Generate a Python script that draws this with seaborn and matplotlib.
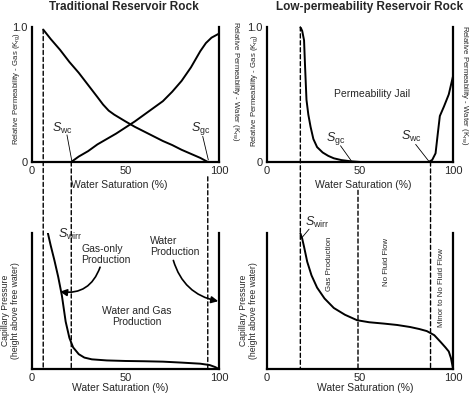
#!/usr/bin/env python3
import pandas as pd
import seaborn as sns
import matplotlib.pyplot as plt
from matplotlib.patches import ConnectionPatch

# relative permeability, traditional rock
trad_krg_sw = [6, 10, 15, 20, 25, 30, 35, 38, 41, 44, 47, 50, 55, 60, 65, 70, 75, 80, 85, 90, 94]
trad_krg = [0.98, 0.91, 0.83, 0.74, 0.66, 0.57, 0.48, 0.425, 0.38, 0.35, 0.325, 0.30, 0.26,
            0.225, 0.19, 0.155, 0.125, 0.09, 0.06, 0.03, 0.0]
trad_krw_sw = [21, 25, 30, 35, 40, 45, 50, 55, 60, 65, 70, 75, 80, 85, 90, 93, 96, 100]
trad_krw = [0.0, 0.04, 0.08, 0.13, 0.17, 0.21, 0.255, 0.30, 0.35, 0.40, 0.45, 0.52, 0.60,
            0.70, 0.82, 0.88, 0.92, 0.95]

# relative permeability, low-permeability rock
tight_krg_sw = [18, 19, 20, 20.5, 21.3, 22.3, 23.5, 25, 27, 30, 33, 36, 40, 45, 50]
tight_krg = [1.0, 0.97, 0.9, 0.72, 0.46, 0.35, 0.26, 0.17, 0.11, 0.07, 0.045, 0.027, 0.014, 0.005, 0.0]
tight_krw_sw = [87, 88.9, 90.7, 91.9, 93, 95.2, 97.8, 100]
tight_krw = [0.0, 0.015, 0.064, 0.21, 0.34, 0.41, 0.5, 0.63]

# capillary pressure curves
trad_pc_sw = [8.5, 10, 12, 14, 16, 18, 20, 22, 25, 28, 32, 40, 50, 60, 70, 80, 90, 95, 98, 100]
trad_pc = [1.0, 0.91, 0.8, 0.68, 0.54, 0.35, 0.23, 0.16, 0.11, 0.085, 0.072, 0.064, 0.06,
           0.058, 0.055, 0.048, 0.04, 0.03, 0.015, 0.0]
tight_pc_sw = [18, 19, 20, 21.7, 24, 27, 31, 36, 42, 48.5, 55, 63, 70, 77, 82, 86, 90, 93.4,
               96, 97.8, 99, 100]
tight_pc = [1.0, 0.96, 0.9, 0.79, 0.69, 0.6, 0.52, 0.45, 0.4, 0.36, 0.345, 0.335, 0.325, 0.31,
            0.295, 0.28, 0.25, 0.2, 0.16, 0.13, 0.08, 0.01]

# cut-off saturations (dashed lines)
trad_cutoffs = [6, 21, 94]
tight_cutoffs = [18, 49, 88]

sns.set_style('white')
plt.rcParams['font.family'] = ['Liberation Sans', 'DejaVu Sans']
plt.rcParams['mathtext.fontset'] = 'custom'
plt.rcParams['mathtext.rm'] = 'Liberation Sans'
plt.rcParams['mathtext.it'] = 'Liberation Sans:italic'

fig = plt.figure(figsize=(4.74, 3.95), dpi=100)
ax_tl = fig.add_axes([0.0675, 0.590, 0.3945, 0.342])
ax_tr = fig.add_axes([0.563, 0.590, 0.3924, 0.342])
ax_bl = fig.add_axes([0.0675, 0.0655, 0.3945, 0.344])
ax_br = fig.add_axes([0.563, 0.0655, 0.3924, 0.344])

def curve(ax, sw, val):
    df = pd.DataFrame({'sw': sw, 'v': val})
    sns.lineplot(data=df, x='sw', y='v', ax=ax, color='black', lw=1.4, sort=False)

curve(ax_tl, trad_krg_sw, trad_krg)
curve(ax_tl, trad_krw_sw, trad_krw)
curve(ax_tr, tight_krg_sw, tight_krg)
curve(ax_tr, tight_krw_sw, tight_krw)
curve(ax_bl, trad_pc_sw, trad_pc)
curve(ax_br, tight_pc_sw, tight_pc)

for ax in [ax_tl, ax_tr, ax_bl, ax_br]:
    ax.set_xlim(0, 100)
    ax.set_ylim(0, 1.0)
    ax.set_xticks([0, 50, 100])
    ax.tick_params(length=0, pad=3, labelsize=8)
    ax.spines['top'].set_visible(False)
    for s in ['left', 'right', 'bottom']:
        ax.spines[s].set_linewidth(1.6)
        ax.spines[s].set_color('black')
    ax.set_xlabel('Water Saturation (%)', fontsize=7.5, va='center')

for ax in [ax_tl, ax_tr]:
    ax.set_yticks([0, 1.0])
    ax.set_yticklabels(['0', '1.0'])
    ax.set_ylabel(r'Relative Permeability - Gas (K$_{\rm rg}$)', fontsize=5.6, va='center')
for ax in [ax_bl, ax_br]:
    ax.set_yticks([])
    ax.set_ylabel('Capillary Pressure\n(height above free water)', fontsize=6.2, va='center',
                  linespacing=1.2)

ax_tl.xaxis.set_label_coords(0.465, -0.17)
ax_tr.xaxis.set_label_coords(0.52, -0.17)
ax_bl.xaxis.set_label_coords(0.47, -0.14)
ax_br.xaxis.set_label_coords(0.53, -0.14)
ax_tl.yaxis.set_label_coords(-0.082, 0.54)
ax_tr.yaxis.set_label_coords(-0.065, 0.53)
ax_bl.yaxis.set_label_coords(-0.115, 0.43)
ax_br.yaxis.set_label_coords(-0.10, 0.43)

kw_lbl = r'Relative Permeability - Water (K$_{\rm rw}$)'
ax_tl.text(1.09, 0.6, kw_lbl, transform=ax_tl.transAxes, rotation=270,
           ha='center', va='center', fontsize=5.6)
ax_tr.text(1.065, 0.57, kw_lbl, transform=ax_tr.transAxes, rotation=270,
           ha='center', va='center', fontsize=5.6)

ax_tl.set_title('Traditional Reservoir Rock', fontsize=8.5, weight='bold', pad=12, x=0.49)
ax_tr.set_title('Low-permeability Reservoir Rock', fontsize=8.5, weight='bold', pad=12, x=0.55)

# dashed cut-off lines running through both panels
for top, bot, xs, ystarts in [(ax_tl, ax_bl, trad_cutoffs, [0.98, 0.0, -0.11]),
                              (ax_tr, ax_br, tight_cutoffs, [1.0, -0.21, 0.0])]:
    for x, y0 in zip(xs, ystarts):
        con = ConnectionPatch(xyA=(x, y0), coordsA=top.transData,
                              xyB=(x, 0), coordsB=bot.transData,
                              color='black', lw=1.0, linestyle=(0, (3, 2)))
        fig.add_artist(con)

# saturation labels with leader lines
def sat_label(ax, txt, xy_txt, xy_end, xy_line):
    ax.text(*xy_txt, txt, fontsize=9, ha='center', va='center')
    ax.plot([xy_line[0], xy_end[0]], [xy_line[1], xy_end[1]], color='black', lw=0.6,
            clip_on=False)

sat_label(ax_tl, r'$S_{\rm wc}$', (16, 0.25), (21.4, 0.0), (18.7, 0.2))
sat_label(ax_tl, r'$S_{\rm gc}$', (90, 0.25), (94.3, 0.015), (91.3, 0.19))
sat_label(ax_tr, r'$S_{\rm gc}$', (36.8, 0.17), (45.3, 0.01), (39.6, 0.12))
sat_label(ax_tr, r'$S_{\rm wc}$', (77.7, 0.19), (87.1, 0.005), (80, 0.13))
ax_bl.text(14, 0.99, r'$S_{\rm wirr}$', fontsize=9, ha='left', va='center')
sat_label(ax_br, r'$S_{\rm wirr}$', (27, 1.08), (19, 0.97), (22.7, 1.03))

ax_tr.text(56.5, 0.5, 'Permeability Jail', fontsize=7.5, ha='center', va='center')

# production zones, traditional rock
ax_bl.text(26.5, 0.92, 'Gas-only\nProduction', fontsize=7.5, ha='left', va='top', linespacing=1.1)
ax_bl.text(63, 0.98, 'Water\nProduction', fontsize=7.5, ha='left', va='top', linespacing=1.1)
ax_bl.text(55.8, 0.39, 'Water and Gas\nProduction', fontsize=7.5, ha='center', va='center',
           linespacing=1.1)
ax_bl.annotate('', xy=(15, 0.57), xytext=(36.4, 0.75),
               arrowprops=dict(arrowstyle='-|>', color='black', lw=1.2, mutation_scale=10,
                               connectionstyle='arc3,rad=-0.4', shrinkA=0, shrinkB=0))
ax_bl.annotate('', xy=(99.6, 0.5), xytext=(75.6, 0.80),
               arrowprops=dict(arrowstyle='-|>', color='black', lw=1.2, mutation_scale=10,
                               connectionstyle='arc3,rad=0.3', shrinkA=0, shrinkB=0))

# flow zones, low-permeability rock
for x, y, t in [(33.7, 0.975, 'Gas Production'), (64.5, 0.965, 'No Fluid Flow'),
                (94, 0.89, 'Minor to No Fluid Flow')]:
    ax_br.text(x, y, t, rotation=90, fontsize=5.7, ha='center', va='top')

plt.savefig('out.png', dpi=100)
